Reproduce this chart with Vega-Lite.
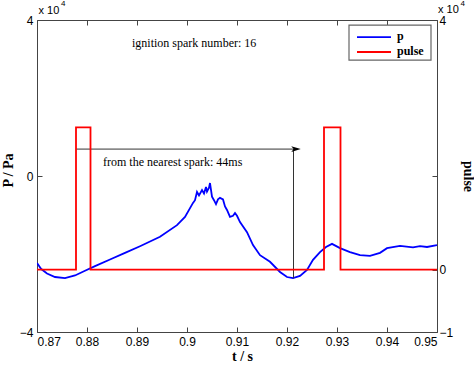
{
  "$schema": "https://vega.github.io/schema/vega-lite/v6.json",
  "autosize": {"type": "none"},
  "padding": {"left": 37, "top": 20, "right": 37, "bottom": 33},
  "width": 400,
  "height": 312,
  "background": "white",
  "config": {
    "view": {"stroke": null},
    "axis": {
      "domainColor": "#444",
      "tickColor": "#444",
      "tickSize": -5,
      "grid": false,
      "labelFont": "Liberation Sans",
      "labelFontSize": 12,
      "labelColor": "black",
      "titleFont": "Liberation Serif",
      "titleFontSize": 14,
      "titleFontWeight": "bold",
      "titleColor": "black"
    }
  },
  "datasets": {
    "p": [
      {"t": 0.8700, "v": -2.23}, {"t": 0.8708, "v": -2.38}, {"t": 0.8720, "v": -2.50},
      {"t": 0.8736, "v": -2.59}, {"t": 0.8756, "v": -2.62}, {"t": 0.8776, "v": -2.55},
      {"t": 0.8796, "v": -2.43}, {"t": 0.8816, "v": -2.31}, {"t": 0.8846, "v": -2.14},
      {"t": 0.8876, "v": -1.97}, {"t": 0.8906, "v": -1.80}, {"t": 0.8946, "v": -1.56},
      {"t": 0.8980, "v": -1.26}, {"t": 0.8996, "v": -1.05}, {"t": 0.9012, "v": -0.69},
      {"t": 0.9016, "v": -0.62}, {"t": 0.9020, "v": -0.41}, {"t": 0.9024, "v": -0.50},
      {"t": 0.9030, "v": -0.36}, {"t": 0.9034, "v": -0.45}, {"t": 0.9038, "v": -0.28},
      {"t": 0.9040, "v": -0.40}, {"t": 0.9044, "v": -0.30}, {"t": 0.9046, "v": -0.18},
      {"t": 0.9050, "v": -0.53}, {"t": 0.9054, "v": -0.62}, {"t": 0.9058, "v": -0.72},
      {"t": 0.9062, "v": -0.60}, {"t": 0.9066, "v": -0.56}, {"t": 0.9072, "v": -0.60},
      {"t": 0.9076, "v": -0.78}, {"t": 0.9080, "v": -0.87}, {"t": 0.9086, "v": -1.05},
      {"t": 0.9092, "v": -1.02}, {"t": 0.9096, "v": -0.95}, {"t": 0.9100, "v": -1.02},
      {"t": 0.9106, "v": -1.18}, {"t": 0.9120, "v": -1.44}, {"t": 0.9132, "v": -1.77},
      {"t": 0.9146, "v": -2.03}, {"t": 0.9166, "v": -2.20}, {"t": 0.9186, "v": -2.46},
      {"t": 0.9200, "v": -2.59}, {"t": 0.9212, "v": -2.62}, {"t": 0.9226, "v": -2.56},
      {"t": 0.9240, "v": -2.41}, {"t": 0.9252, "v": -2.15}, {"t": 0.9266, "v": -1.95},
      {"t": 0.9278, "v": -1.82}, {"t": 0.9290, "v": -1.74}, {"t": 0.9306, "v": -1.85},
      {"t": 0.9326, "v": -1.95}, {"t": 0.9346, "v": -2.03}, {"t": 0.9366, "v": -2.05},
      {"t": 0.9386, "v": -1.97}, {"t": 0.9400, "v": -1.85}, {"t": 0.9426, "v": -1.79},
      {"t": 0.9452, "v": -1.83}, {"t": 0.9466, "v": -1.80}, {"t": 0.9480, "v": -1.82},
      {"t": 0.9500, "v": -1.77}
    ],
    "pulse": [
      {"t": 0.8700, "v": 0}, {"t": 0.8778, "v": 0}, {"t": 0.8778, "v": 2.28},
      {"t": 0.8807, "v": 2.28}, {"t": 0.8807, "v": 0}, {"t": 0.9274, "v": 0},
      {"t": 0.9274, "v": 2.28}, {"t": 0.9307, "v": 2.28}, {"t": 0.9307, "v": 0},
      {"t": 0.9500, "v": 0}
    ]
  },
  "layer": [
    {
      "layer": [
        {
          "data": {"name": "p"},
          "mark": {"type": "line", "color": "#0000ff", "strokeWidth": 1.8, "clip": true},
          "encoding": {
            "x": {"field": "t", "type": "quantitative", "scale": {"domain": [0.87, 0.95], "nice": false, "zero": false},
                  "axis": {"orient": "bottom", "values": [0.87, 0.88, 0.89, 0.9, 0.91, 0.92, 0.93, 0.94, 0.95], "format": ".2~f", "labelPadding": 9, "title": "t / s", "titleX": 205, "titleY": 17, "titleBaseline": "top"}},
            "y": {"field": "v", "type": "quantitative", "scale": {"domain": [-4, 4], "nice": false, "zero": false},
                  "axis": {"orient": "left", "values": [-4, 0, 4], "labelPadding": 9, "title": "P / Pa", "titleX": -29, "titleY": 150, "titleBaseline": "middle"}}
          }
        },
        {
          "data": {"values": [{"t1": 0.8778, "t2": 0.9216, "v": 0.69}]},
          "mark": {"type": "rule", "color": "#333", "strokeWidth": 1},
          "encoding": {
            "x": {"field": "t1", "type": "quantitative"},
            "x2": {"field": "t2"},
            "y": {"field": "v", "type": "quantitative"}
          }
        },
        {
          "data": {"values": [{"t": 0.9213, "v1": 0.69, "v2": -2.62}]},
          "mark": {"type": "rule", "color": "#333", "strokeWidth": 1},
          "encoding": {
            "x": {"field": "t", "type": "quantitative"},
            "y": {"field": "v1", "type": "quantitative"},
            "y2": {"field": "v2"}
          }
        },
        {
          "data": {"values": [{"t": 0.9218, "v": 0.69}]},
          "mark": {"type": "point", "shape": "M-1,-0.6L1,0L-1,0.6L-0.5,0Z", "filled": true, "color": "black", "size": 90, "opacity": 1},
          "encoding": {
            "x": {"field": "t", "type": "quantitative"},
            "y": {"field": "v", "type": "quantitative"}
          }
        },
        {
          "data": {"values": [
            {"t": 0.8890, "v": 3.42, "txt": "ignition spark number: 16"},
            {"t": 0.8832, "v": 0.36, "txt": "from the nearest spark: 44ms"}
          ]},
          "mark": {"type": "text", "font": "Liberation Serif", "fontSize": 12, "align": "left", "baseline": "middle", "color": "black"},
          "encoding": {
            "x": {"field": "t", "type": "quantitative"},
            "y": {"field": "v", "type": "quantitative"},
            "text": {"field": "txt"}
          }
        },
        {
          "data": {"values": [{"x1": 0.9324, "x2": 0.9488, "y1": 3.87, "y2": 2.97}]},
          "mark": {"type": "rect", "fill": "white", "stroke": "#666", "strokeWidth": 1.2},
          "encoding": {
            "x": {"field": "x1", "type": "quantitative"},
            "x2": {"field": "x2"},
            "y": {"field": "y1", "type": "quantitative"},
            "y2": {"field": "y2"}
          }
        },
        {
          "data": {"values": [
            {"x1": 0.9340, "x2": 0.9408, "y": 3.56, "s": "p"},
            {"x1": 0.9340, "x2": 0.9408, "y": 3.18, "s": "pulse"}
          ]},
          "mark": {"type": "rule", "strokeWidth": 1.8},
          "encoding": {
            "x": {"field": "x1", "type": "quantitative"},
            "x2": {"field": "x2"},
            "y": {"field": "y", "type": "quantitative"},
            "color": {"field": "s", "type": "nominal", "scale": {"domain": ["p", "pulse"], "range": ["#0000ff", "#ff0000"]}, "legend": null}
          }
        },
        {
          "data": {"values": [
            {"x": 0.9420, "y": 3.58, "s": "p"},
            {"x": 0.9420, "y": 3.20, "s": "pulse"}
          ]},
          "mark": {"type": "text", "font": "Liberation Serif", "fontSize": 12, "fontWeight": "bold", "align": "left", "baseline": "middle", "color": "black"},
          "encoding": {
            "x": {"field": "x", "type": "quantitative"},
            "y": {"field": "y", "type": "quantitative"},
            "text": {"field": "s"}
          }
        },
        {
          "data": {"values": [
            {"t": 0.8703, "v": 4.24, "txt": "x 10"},
            {"t": 0.9502, "v": 4.26, "txt": "x 10"}
          ]},
          "mark": {"type": "text", "font": "Liberation Sans", "fontSize": 11, "align": "left", "baseline": "middle", "color": "black", "clip": false},
          "encoding": {
            "x": {"field": "t", "type": "quantitative"},
            "y": {"field": "v", "type": "quantitative"},
            "text": {"field": "txt"}
          }
        },
        {
          "data": {"values": [
            {"t": 0.8748, "v": 4.40, "txt": "4"},
            {"t": 0.9547, "v": 4.42, "txt": "4"}
          ]},
          "mark": {"type": "text", "font": "Liberation Sans", "fontSize": 8, "align": "left", "baseline": "middle", "color": "black", "clip": false},
          "encoding": {
            "x": {"field": "t", "type": "quantitative"},
            "y": {"field": "v", "type": "quantitative"},
            "text": {"field": "txt"}
          }
        }
      ]
    },
    {
      "data": {"name": "pulse"},
      "mark": {"type": "line", "color": "#ff0000", "strokeWidth": 1.8, "interpolate": "linear"},
      "encoding": {
        "x": {"field": "t", "type": "quantitative",
              "axis": {"orient": "top", "values": [0.87, 0.88, 0.89, 0.9, 0.91, 0.92, 0.93, 0.94, 0.95], "labels": false, "title": null}},
        "y": {"field": "v", "type": "quantitative", "scale": {"domain": [-1, 4], "nice": false, "zero": false},
              "axis": {"orient": "right", "values": [-1, 0, 1.5, 4], "labelExpr": "datum.value == 1.5 ? '' : datum.value == -1 ? '\u22121' : datum.label", "labelPadding": 7, "title": "pulse", "titleX": 30, "titleY": 156, "titleBaseline": "middle"}}
      }
    }
  ],
  "resolve": {"scale": {"y": "independent"}, "axis": {"x": "independent"}}
}
